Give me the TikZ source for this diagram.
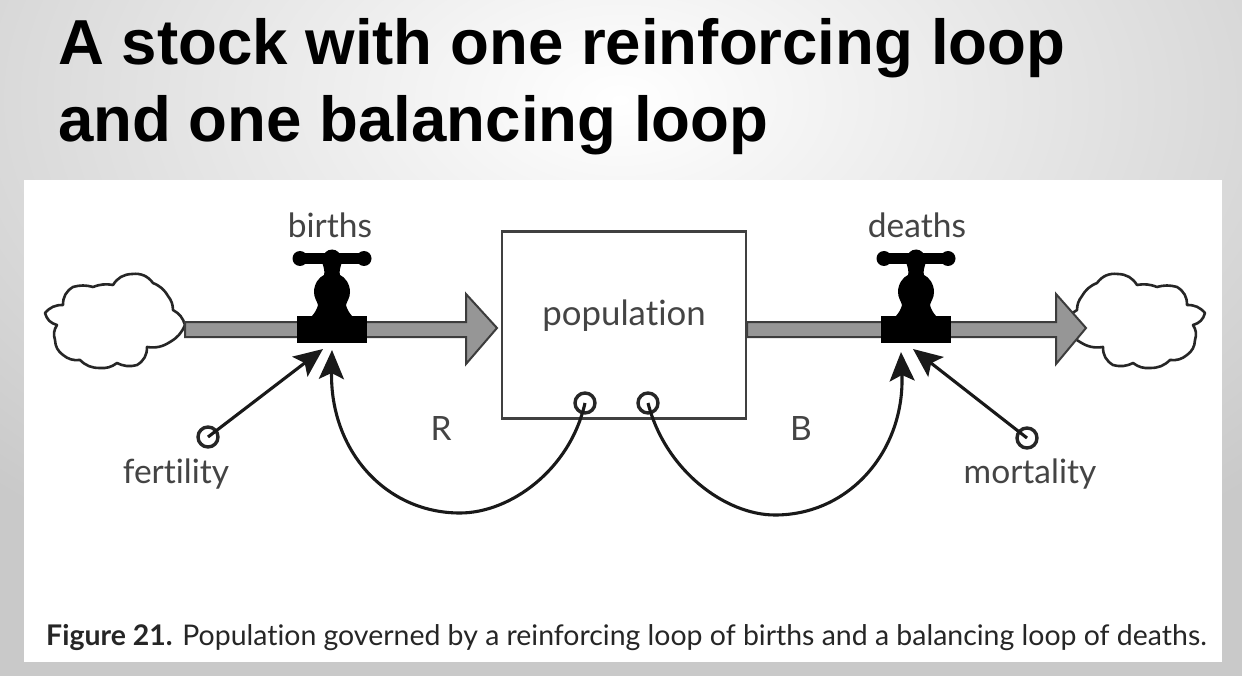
\documentclass[tikz,border=0pt]{standalone}
\usepackage{fontspec}
\setmainfont{Lato}[Ligatures=NoCommon]
\newfontfamily\titlefont{Liberation Sans}
\usetikzlibrary{arrows.meta,calc}
\definecolor{lab}{HTML}{444444}
\definecolor{pipe}{HTML}{969696}
\definecolor{pipeedge}{HTML}{3C3C3C}
\tikzset{
  x=1pt,y=-1pt,
  titletext/.style={anchor=base west,inner sep=0pt,font=\titlefont\fontsize{63.6}{64}\selectfont\bfseries,text=black},
  label/.style={anchor=base,inner sep=0pt,font=\fontsize{33.5}{34}\selectfont,text=lab},
  flowbar/.style={fill=pipe,draw=pipeedge,line width=2pt,line join=miter},
  valveblack/.style={fill=black},
  stockbox/.style={draw=black!75,line width=2.8pt,fill=white,minimum width=244pt,minimum height=187pt,inner sep=0pt},
  ring/.style={circle,draw=black!85,line width=3.4pt,minimum size=20pt,inner sep=0pt,fill=white},
  infl/.style={draw=black!90,line width=3.1pt,-{Stealth[length=29pt,width=25pt,inset=6pt]}},
  cloudline/.style={draw=black!85,fill=white,line width=2.6pt,line join=round},
}
\newcommand{\drawvalve}[1]{%
  \begin{scope}[shift={(#1,0)}]
    \fill[black] (-35,316) rectangle (35,343);
    \path[valveblack] (-10,262) -- (10,262) .. controls (8,268) and (7,272) .. (8,275)
      .. controls (13,277) and (18,284) .. (18,292) .. controls (18,298) and (15,301) .. (14,305)
      .. controls (15,309) and (17,313) .. (21,317) -- (-21,317)
      .. controls (-17,313) and (-15,309) .. (-14,305) .. controls (-15,301) and (-18,298) .. (-18,292)
      .. controls (-18,284) and (-13,277) .. (-8,275) .. controls (-7,272) and (-8,268) .. (-10,262) -- cycle;
    \draw[black,line width=10.5pt] (-31,258.5) -- (31,258.5);
    \fill[black] (-32,258.5) circle (7.5) (32,258.5) circle (7.5) (0,258.5) circle (9);
  \end{scope}}
\newcommand{\drawcloud}[2]{%
  \begin{scope}[shift={(#1,0)},xscale=#2]
    \path[cloudline] (185,325) to[bend right=22] (173,310) to[bend right=18] (168,296)
      to[bend right=18] (153,283) to[bend right=30] (132,274) to[bend right=28] (113,285)
      to[bend right=15] (93,287) to[bend right=15] (73,287) to[bend right=30] (63,305)
      to[bend right=25] (45,313) to[bend right=30] (57,325) to[bend right=25] (55,340)
      to[bend right=25] (63,355) to[bend right=22] (80,360) to[bend right=22] (100,368)
      to[bend right=20] (117,363) to[bend right=20] (137,365) to[bend right=30] (147,347)
      to[bend right=20] (170,342) to[bend right=18] cycle;
  \end{scope}}
\begin{document}
\begin{tikzpicture}
\useasboundingbox (0,0) rectangle (1242,676);
\clip (0,0) rectangle (1242,676);
\fill[black!21] (0,0) rectangle (1242,676);
\shade[inner color=white,outer color=black!21] (-260,-440) rectangle (1500,640);
\node[titletext] (t1) at (58,65) {A stock with one reinforcing loop};
\node[titletext] (t2) at (58,142) {and one balancing loop};
\fill[white] (24,180) rectangle (1222,662);

% clouds
\drawcloud{0}{1}
\drawcloud{1250}{-1}

% flows
\path[flowbar] (185,322) -- (466,322) -- (466,294) -- (497,328) -- (466,364) -- (466,337) -- (185,337) -- cycle;
\path[flowbar] (747,322) -- (1056,322) -- (1056,294) -- (1086,328) -- (1056,364) -- (1056,337) -- (747,337) -- cycle;

% stock
\node[stockbox] (pop) at (624,325) {};
\node[anchor=base,inner sep=0pt,font=\fontsize{34.8}{35}\selectfont,text=lab] (poplabel) at (624,326) {population};

% valves
\drawvalve{332}
\drawvalve{916}
\coordinate (vbL) at (323,349);
\coordinate (vbR) at (332,350);
\coordinate (vdL) at (901,352);
\coordinate (vdR) at (913,349);

% labels
\node[label] (births) at (330,238) {births};
\node[label] (deaths) at (917,238) {deaths};
\node[label] (fertlabel) at (176,483) {fertility};
\node[label] (mortlabel) at (1030,483) {mortality};
\node[label] (R) at (441,440) {R};
\node[label] (B) at (801,440) {B};

% converters
\node[ring] (fert) at (208,437) {};
\node[ring] (mort) at (1027,438) {};
\node[ring] (popR) at (585,403) {};
\node[ring] (popB) at (648,403) {};
\draw[infl] (fert.center) -- (vbL);
\draw[infl] (mort.center) -- (vdR);
\draw[infl] (popR.center) .. controls (570,470) and (510,513) .. (460,513) .. controls (385,513) and (330,450) .. (vbR);
\draw[infl] (popB.center) .. controls (665,470) and (725,515) .. (775,515) .. controls (850,515) and (905,450) .. (vdL);

% caption
\node[anchor=base west,inner sep=0pt,font=\fontsize{28.45}{28.5}\selectfont,text=black!85] (cap) at (46,645)
  {\textbf{Figure 21.} Population governed by a reinforcing loop of births and a balancing loop of deaths.};
\end{tikzpicture}
\end{document}
